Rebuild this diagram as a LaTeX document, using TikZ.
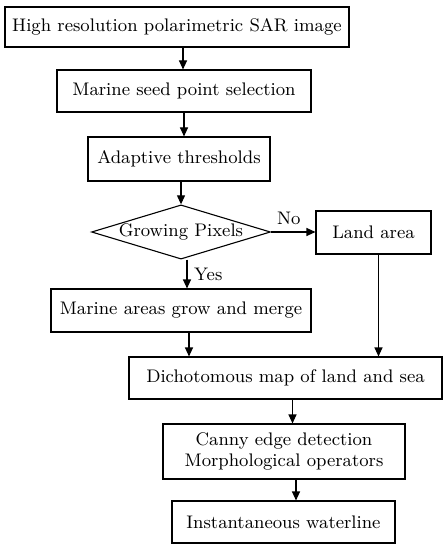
\documentclass[tikz,border=0pt]{standalone}
\usepackage{tikz}
\usetikzlibrary{arrows.meta,shapes.geometric}

\begin{document}
\begin{tikzpicture}[x=0.5pt,y=-0.5pt,>={Triangle[length=4.5pt,width=4pt]},auto,font=\fontsize{9.1}{10.8}\selectfont]
	\tikzstyle{block}=[rectangle, draw=black, line width=0.55pt, inner sep=2pt, minimum height=21pt]
	\tikzstyle{decision}=[diamond, draw=black, line width=0.55pt, aspect=3.3, inner sep=0pt, minimum width=88.5pt, minimum height=27pt]
	\tikzstyle{line}=[draw, line width=0.55pt, ->]

	\useasboundingbox (0,0) rectangle (446,550);

	\node [block, minimum width=172pt, minimum height=20pt] (img) at (177,27) {High resolution polarimetric SAR image};
	\node [block, minimum width=127pt] (seed) at (184,91) {Marine seed point selection};
	\node [block, minimum width=91pt, minimum height=22pt] (thr) at (179,159) {Adaptive thresholds};
	\node [decision] (grow) at (181,232) {Growing Pixels};
	\node [block, minimum width=57.5pt, minimum height=21.5pt] (land) at (373.5,232.5) {Land area};
	\node [block, minimum width=130pt, minimum height=21.5pt] (merge) at (181,310.5) {Marine areas grow and merge};
	\node [block, minimum width=156.5pt] (dich) at (285.5,378) {Dichotomous map of land and sea};
	\node [block, minimum width=121pt, minimum height=27.5pt, align=center] (canny) at (284,451.5) {Canny edge detection\\Morphological operators};
	\node [block, minimum width=111.5pt] (water) at (283.5,522) {Instantaneous waterline};

	\path [line] ([xshift=3]img.south) -- ([xshift=3]img.south |- seed.north);
	\path [line] (seed.south) -- (seed.south |- thr.north);
	\path [line] (grow.north |- thr.south) -- (grow.north);
	\path [line] (grow.east) -- node [above, pos=0.4] {No} (grow.east -| land.west);
	\path [line] ([xshift=3]grow.south) -- node [right, pos=0.5] {Yes} ([xshift=3]grow.south |- merge.north);
	\path [line] ([xshift=4]merge.south) -- ([xshift=4]merge.south |- dich.north);
	\path [line] ([xshift=2.5]land.south) -- ([xshift=2.5]land.south |- dich.north);
	\path [line] ([xshift=3.5]dich.south) -- ([xshift=3.5]dich.south |- canny.north);
	\path [line] ([xshift=6]canny.south) -- ([xshift=6]canny.south |- water.north);
\end{tikzpicture}
\end{document}
